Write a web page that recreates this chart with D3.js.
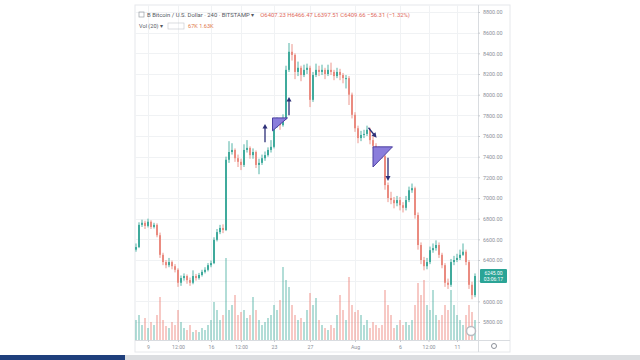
<!DOCTYPE html>
<html><head><meta charset="utf-8">
<script src="https://cdn.jsdelivr.net/npm/d3@7"></script>
<style>
html,body{margin:0;padding:0;background:#fff;}
svg{display:block;font-family:Roboto, "Liberation Sans", sans-serif;}
</style></head>
<body><svg id="c" width="640" height="360"></svg>
<script>
// ---- data (BTC/USD, Bitstamp, bars) ----
const firstOpen = 6500;
const closes = [6525,6740,6760,6730,6770,6720,6740,6640,6450,6380,6350,6380,6340,6305,6180,6225,6245,6205,6180,6245,6225,6255,6285,6305,6350,6370,6595,6670,6710,6690,
7370,7445,7465,7385,7350,7320,7465,7485,7415,7445,7320,7340,7385,7415,7465,7495,7705,7735,7705,7775,8240,8415,8385,8220,8260,8190,8240,8260,7950,8190,
8240,8220,8240,8200,8240,8220,8180,8220,8190,8160,8160,8000,7805,7675,7580,7610,7620,7660,7560,7505,7465,7445,7405,7125,7000,6980,6950,6980,6930,6905,
6980,7075,7095,6835,6545,6400,6340,6380,6495,6515,6545,6450,6350,6180,6160,6380,6400,6420,6450,6480,6380,6160,6060,6245];
const highs = [6560,6765,6790,6780,6800,6785,6760,6755,6665,6470,6400,6420,6395,6360,6320,6250,6270,6260,6230,6300,6265,6275,6305,6330,6370,6395,6620,6700,6740,6745,
7400,7550,7530,7480,7420,7380,7520,7560,7500,7480,7460,7380,7420,7450,7490,7560,7730,7780,7760,7810,8280,8500,8490,8400,8320,8280,8290,8300,8280,8220,
8300,8280,8290,8260,8290,8310,8240,8260,8250,8210,8190,8180,8020,7830,7700,7650,7660,7700,7680,7600,7530,7500,7470,7420,7150,7060,7010,7020,7010,6960,
7020,7110,7140,7110,6860,6570,6430,6420,6530,6560,6590,6570,6470,6370,6220,6410,6440,6460,6500,6560,6500,6400,6190,6270];
const lows = [6480,6515,6720,6700,6715,6700,6705,6620,6420,6350,6320,6330,6310,6280,6140,6150,6200,6170,6150,6165,6200,6210,6240,6270,6290,6330,6360,6580,6650,6660,
6680,7340,7420,7350,7300,7270,7300,7440,7380,7380,7290,7230,7320,7360,7400,7440,7480,7680,7660,7690,7760,8220,8330,8150,8180,8130,8170,8200,7880,7930,
8170,8180,8190,8150,8180,8190,8140,8160,8140,8110,8060,7900,7770,7640,7530,7550,7580,7600,7520,7480,7430,7410,7380,7080,6960,6940,6900,6920,6880,6860,
6880,6960,7050,6800,6500,6360,6300,6310,6360,6470,6490,6420,6320,6140,6120,6140,6350,6380,6400,6440,6350,6120,6020,6040];
const volumes = [2000,2500,1500,2200,1200,1800,1500,2500,4300,2000,1400,1200,1800,1500,3000,1800,1200,1000,1500,800,1000,800,1200,1000,1500,2000,3800,3000,2000,2500,
8200,3000,3500,4500,2500,2800,3000,2200,2500,4300,3000,2000,1500,1800,2200,2500,3500,3000,4000,7300,6000,5300,3500,2500,2000,2200,1800,3000,4700,3500,
4200,2000,1500,1200,1000,1500,1200,2500,4500,3000,2000,6300,3500,2800,3000,2500,1500,2000,1200,1800,1500,1200,1500,5000,3500,2500,1200,1500,2000,1500,
1800,1500,2000,3500,5700,4500,6000,3500,3000,5000,2500,2000,2500,3500,3000,5000,3500,2500,2000,1500,2500,3500,2800,2000];
const barStart = Date.UTC(2018,6,7,16);     // first 8h bar
const barHours = 8;
const priceTicks = [8800,8600,8400,8200,8000,7800,7600,7400,7200,7000,6800,6600,6400,6200,6000,5800];
const timeTicks = [Date.UTC(2018,6,9),Date.UTC(2018,6,12,8),Date.UTC(2018,6,16),Date.UTC(2018,6,19,8),Date.UTC(2018,6,23),
  Date.UTC(2018,6,27),Date.UTC(2018,7,1),Date.UTC(2018,7,6),Date.UTC(2018,7,9,4),Date.UTC(2018,7,12,8)];
const timeLabels = ["9","12:00","16","12:00","23","27","Aug","6","12:00","11"];
// annotations (time, price)
const triangles = [
  {t:Date.UTC(2018,6,22,20), t2:Date.UTC(2018,6,24,12), p:[7775,7650]},
  {t:Date.UTC(2018,7,3,0), t2:Date.UTC(2018,7,5,4), p:[7495,7300]}
];
const upArrows = [{t:Date.UTC(2018,6,22,0), p:[7540,7706]},{t:Date.UTC(2018,6,24,16), p:[7800,7968]}];
const downArrows = [{t:Date.UTC(2018,7,2,12), t2:Date.UTC(2018,7,3,8), p:[7680,7590]},
                    {t:Date.UTC(2018,7,4,16), t2:Date.UTC(2018,7,4,16), p:[7390,7175]}];

// ---- layout ----
const L=135, R=478, T=5, B=340, AX=510, AB=352;
const svg = d3.select("#c");
const x = d3.scaleTime().domain([Date.UTC(2018,6,9), Date.UTC(2018,7,6)]).range([148,400]);
const y = d3.scaleLinear().domain([5800,8800]).range([322,12]);
const v = d3.scaleLinear().domain([0,10000]).range([B, B-100]);

const bars = closes.map((c,i)=>({
  t: barStart + i*barHours*3600e3,
  o: i ? closes[i-1] : firstOpen, c, h: highs[i], l: lows[i], vol: volumes[i]
}));

const UP="#3faa9c", DN="#ea8b80";

// frame
svg.append("rect").attr("x",L).attr("y",T).attr("width",AX-L).attr("height",AB-T)
  .attr("fill","#fff").attr("stroke","#e6e8eb");

// grid
const g = svg.append("g");
g.selectAll("line.h").data(priceTicks).join("line")
  .attr("x1",L).attr("x2",R).attr("y1",d=>Math.round(y(d))+0.5).attr("y2",d=>Math.round(y(d))+0.5)
  .attr("stroke","#f0f2f4");
g.selectAll("line.v").data(timeTicks).join("line")
  .attr("y1",T).attr("y2",B).attr("x1",d=>Math.round(x(d))+0.5).attr("x2",d=>Math.round(x(d))+0.5)
  .attr("stroke","#f0f2f4");

svg.append("clipPath").attr("id","pc").append("rect")
  .attr("x",L).attr("y",T).attr("width",R-L).attr("height",B-T);
const plot = svg.append("g").attr("clip-path","url(#pc)");

// volume
plot.selectAll("rect.vol").data(bars).join("rect")
  .attr("x",d=>x(d.t)-1).attr("width",2)
  .attr("y",d=>v(d.vol)).attr("height",d=>B-v(d.vol))
  .attr("fill",d=>d.c>=d.o? "rgba(63,170,156,0.4)":"rgba(234,120,110,0.4)");

// candles
plot.selectAll("line.wick").data(bars).join("line")
  .attr("x1",d=>x(d.t)).attr("x2",d=>x(d.t))
  .attr("y1",d=>y(d.h)).attr("y2",d=>y(d.l))
  .attr("stroke",d=>d.c>=d.o?UP:DN).attr("stroke-width",0.9);
plot.selectAll("rect.body").data(bars).join("rect")
  .attr("x",d=>x(d.t)-1).attr("width",2)
  .attr("y",d=>y(Math.max(d.o,d.c)))
  .attr("height",d=>Math.max(1,Math.abs(y(d.o)-y(d.c))))
  .attr("fill",d=>d.c>=d.o?UP:DN);

// annotations
plot.selectAll("path.tri").data(triangles).join("path")
  .attr("d",d=>`M${x(d.t)},${y(d.p[0])}L${x(d.t2)},${y(d.p[0])}L${x(d.t)},${y(d.p[1])}Z`)
  .attr("fill","#8a7ddc").attr("stroke","#4b3fa0").attr("stroke-width",1);
const AC="#2c2f78";
upArrows.forEach(a=>{
  const xx=x(a.t);
  plot.append("line").attr("x1",xx).attr("x2",xx).attr("y1",y(a.p[0])).attr("y2",y(a.p[1])+2).attr("stroke",AC).attr("stroke-width",1.3);
  plot.append("path").attr("d",`M${xx-2.5},${y(a.p[1])+3.5}L${xx},${y(a.p[1])-1}L${xx+2.5},${y(a.p[1])+3.5}Z`).attr("fill",AC);
});
downArrows.forEach(a=>{
  const x1=x(a.t), x2=x(a.t2), y1=y(a.p[0]), y2=y(a.p[1]);
  const ang=Math.atan2(y2-y1,x2-x1);
  plot.append("line").attr("x1",x1).attr("x2",x2-2*Math.cos(ang)).attr("y1",y1).attr("y2",y2-2*Math.sin(ang)).attr("stroke",AC).attr("stroke-width",1.3);
  plot.append("path").attr("transform",`translate(${x2},${y2}) rotate(${ang*180/Math.PI})`)
    .attr("d","M1,0L-4,-2.5L-4,2.5Z").attr("fill",AC);
});

// axes
svg.append("line").attr("x1",R+0.5).attr("x2",R+0.5).attr("y1",T).attr("y2",AB).attr("stroke","#d9dce0");
svg.append("line").attr("x1",L).attr("x2",AX).attr("y1",B+0.5).attr("y2",B+0.5).attr("stroke","#d9dce0");

const last = bars[bars.length-1];
const ly = y(last.c);

const ya = svg.append("g").attr("transform",`translate(${R},0)`)
  .call(d3.axisRight(y).tickValues(priceTicks).tickFormat(d3.format(".2f")).tickSize(2).tickPadding(3));
ya.select(".domain").remove();
ya.selectAll("line").attr("stroke","#c9ccd1");
ya.selectAll("text").attr("fill","#8b9099").attr("font-size","5.4px").attr("font-family","Roboto, sans-serif");
// the label hidden behind the last-price box (as in the reference)
ya.selectAll(".tick").filter(d=>Math.abs(y(d)-ly)<10).select("text").remove();

const xa = svg.append("g").attr("transform",`translate(0,${B})`)
  .call(d3.axisBottom(x).tickValues(timeTicks).tickFormat((d,i)=>timeLabels[i]).tickSize(2).tickPadding(3));
xa.select(".domain").remove();
xa.selectAll("line").attr("stroke","#c9ccd1");
xa.selectAll("text").attr("fill","#8b9099").attr("font-size","5.2px").attr("font-family","Roboto, sans-serif");

// last price label
svg.append("rect").attr("x",R+2).attr("y",ly-7).attr("width",27).attr("height",14).attr("rx",1).attr("fill","#2ba496");
svg.append("text").attr("x",R+15.5).attr("y",ly-1).attr("text-anchor","middle").attr("fill","#fff").attr("font-size","5px").text(d3.format(".2f")(last.c));
svg.append("text").attr("x",R+15.5).attr("y",ly+5).attr("text-anchor","middle").attr("fill","#fff").attr("font-size","5px").text("03:06:17");

// icons
svg.append("circle").attr("cx",471).attr("cy",331).attr("r",4.5).attr("fill","#fff").attr("stroke","#b8bcc2").attr("stroke-width",1.5);
svg.append("circle").attr("cx",494).attr("cy",346).attr("r",2.5).attr("fill","none").attr("stroke","#8b9099").attr("stroke-width",1);

// legend
svg.append("rect").attr("x",139).attr("y",12).attr("width",5).attr("height",5).attr("fill","none").attr("stroke","#9aa0a6").attr("stroke-width",0.7);
const lg = svg.append("text").attr("x",147).attr("y",17).attr("font-size","5.9px");
lg.append("tspan").attr("fill","#55595f").text("B Bitcoin / U.S. Dollar · 240 · BITSTAMP ▾");
lg.append("tspan").attr("fill","#e06a5e").attr("dx",6).text("O6407.23  H6466.47  L6397.51  C6409.66  −56.31 (−1.32%)");
const lg2 = svg.append("text").attr("x",139).attr("y",28).attr("font-size","5.6px");
lg2.append("tspan").attr("fill","#55595f").text("Vol (20) ▾");
svg.append("rect").attr("x",168).attr("y",23).attr("width",16).attr("height",6).attr("fill","none").attr("stroke","#c3c6cb").attr("stroke-width",0.6);
svg.append("text").attr("x",188).attr("y",28).attr("font-size","5.6px").attr("fill","#e07a4e").text("67K  1.63K");

// video progress bar
svg.append("rect").attr("x",0).attr("y",355).attr("width",640).attr("height",5).attr("fill","#dcdee1");
svg.append("rect").attr("x",0).attr("y",355).attr("width",125).attr("height",5).attr("fill","#1f3f7c");
</script></body></html>
